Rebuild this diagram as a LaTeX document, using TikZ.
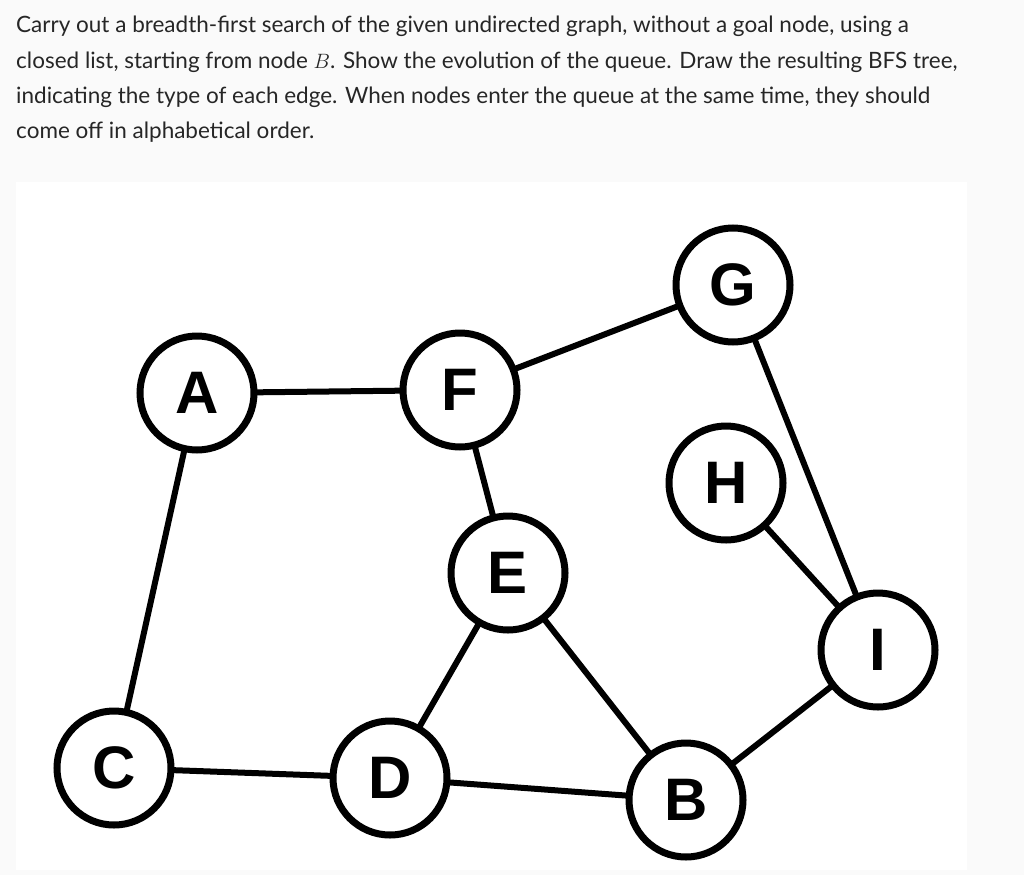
\documentclass[tikz,border=0pt]{standalone}
\usepackage{fontspec}
\setmainfont{Lato}
\newfontfamily\nodefont{Liberation Sans}
\begin{document}
\begin{tikzpicture}[x=1pt,y=-1pt,
  gn/.style={circle,draw=black,line width=7pt,fill=white,minimum size=114pt,inner sep=0pt,font=\nodefont\bfseries\fontsize{60}{60}\selectfont},
  ed/.style={line width=6pt,black},
  txt/.style={anchor=base west,inner sep=0pt,font=\fontsize{22.5}{26}\selectfont,text=black!85}]
\fill[black!2!white] (0,0) rectangle (1024,875);
\useasboundingbox (0,0) rectangle (1024,875);
\fill[white] (16,182) rectangle (967,870);
\node[txt] (l1) at (16,33) {Carry out a breadth-first search of the given undirected graph, without a goal node, using a};
\node[txt] (l2) at (16,68) {closed list, starting from node $B$. Show the evolution of the queue. Draw the resulting BFS tree,};
\node[txt] (l3) at (16,103) {indicating the type of each edge. When nodes enter the queue at the same time, they should};
\node[txt] (l4) at (16,138) {come off in alphabetical order.};
\coordinate (pG) at (733,285);
\coordinate (pA) at (197,393);
\coordinate (pF) at (460,390);
\coordinate (pH) at (726,483);
\coordinate (pE) at (508,573);
\coordinate (pI) at (878,650);
\coordinate (pC) at (114,768);
\coordinate (pD) at (390,778);
\coordinate (pB) at (686,800);
\draw[ed] (pA)--(pF) (pF)--(pG) (pF)--(pE) (pA)--(pC) (pC)--(pD) (pD)--(pE) (pE)--(pB) (pD)--(pB) (pB)--(pI) (pH)--(pI) (pG)--(pI);
\foreach \n in {G,A,F,H,E,I,C,D,B}{\node[gn] (\n) at (p\n) {\n};}
\end{tikzpicture}
\end{document}
